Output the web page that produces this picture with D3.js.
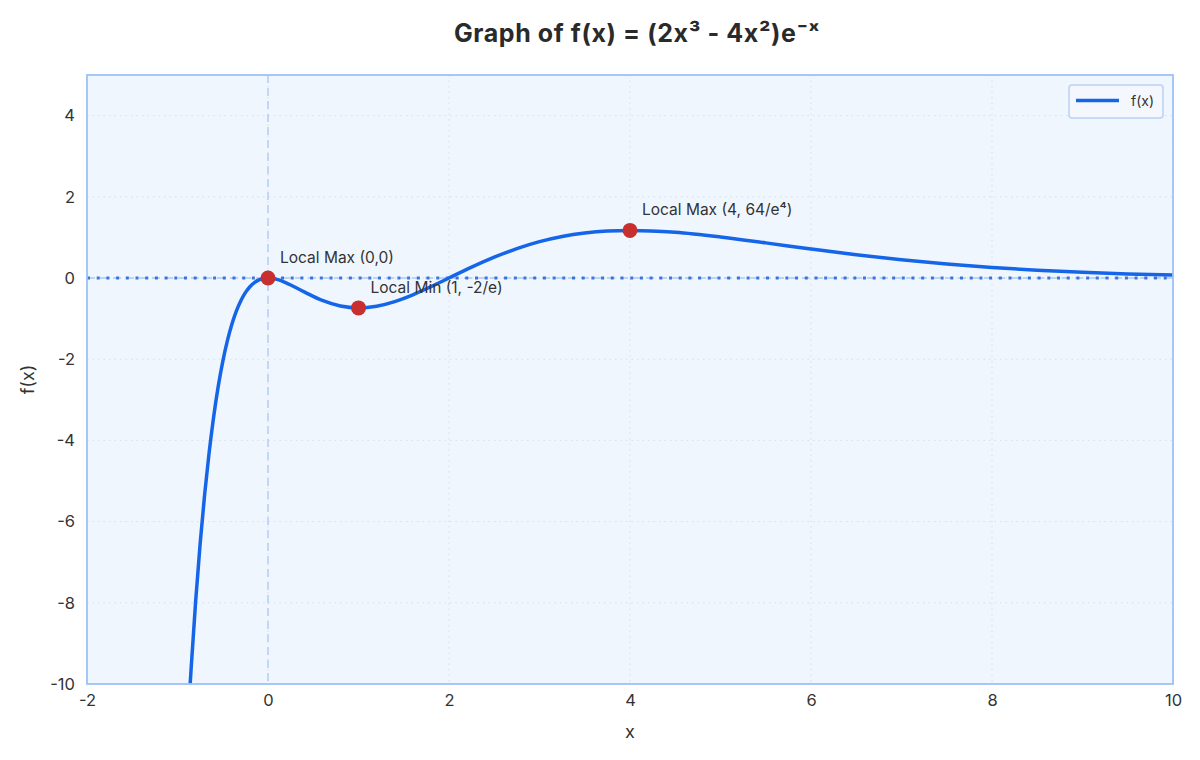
<html>
<head>
  <meta charset="utf-8">
  <title>Graph of f(x)</title>
  <script src="https://d3js.org/d3.v7.min.js"></script>
  <style>
    body { margin: 0; background: #fff; font-family: Inter, "Noto Sans", sans-serif; }
  </style>
</head>
<body>
  <div id="chart"></div>
  <script>
  // curve samples
  var xs = [-0.86, -0.85, -0.8, -0.75, -0.7, -0.65, -0.6, -0.55, -0.5, -0.45, -0.4, -0.35, -0.3, -0.25,
            -0.2, -0.15, -0.1, -0.05, 0, 0.1,
            0.2, 0.4, 0.6, 0.8, 1, 1.2, 1.4, 1.6, 1.8, 2, 2.25, 2.5, 2.75, 3, 3.25, 3.5, 3.75, 4,
            4.5, 5, 5.5, 6, 6.5, 7, 7.5, 8, 8.5, 9, 9.5, 10];
  var ys = [-10.0, -9.64, -7.98, -6.55, -5.33, -4.29, -3.41, -2.67, -2.06, -1.556, -1.146, -0.817, -0.559, -0.361,
            -0.215, -0.112, -0.046, -0.011, 0, -0.034,
            -0.118, -0.343, -0.553, -0.690, -0.736, -0.694, -0.580, -0.413, -0.214, 0, 0.267, 0.513, 0.725, 0.896, 1.024, 1.110, 1.158, 1.172,
            1.125, 1.011, 0.865, 0.714, 0.572, 0.447, 0.342, 0.258, 0.191, 0.140, 0.101, 0.073];

  var pointX = [0, 1, 4];
  var pointY = [0, -0.736, 1.172];
  var pointLabels = ["Local Max (0,0)", "Local Min (1, -2/e)", "Local Max (4, 64/e\u2074)"];

  var xTicks = [-2, 0, 2, 4, 6, 8, 10];
  var yTicks = [-10, -8, -6, -4, -2, 0, 2, 4];

  var W = 1200, H = 760;
  var margin = {top: 75, right: 27, bottom: 76, left: 87},
      width = W - margin.left - margin.right,
      height = H - margin.top - margin.bottom;

  var svg = d3.select("#chart").append("svg")
      .attr("width", W).attr("height", H);

  var g = svg.append("g")
      .attr("transform", "translate(" + margin.left + "," + margin.top + ")");

  var x = d3.scaleLinear().domain([-2, 10]).range([0, width]);
  var y = d3.scaleLinear().domain([-10, 5]).range([height, 0]);

  // plot background
  g.append("rect")
    .attr("width", width).attr("height", height)
    .attr("fill", "#f0f6fe");

  // grid
  g.append("g").selectAll("line").data(yTicks).enter().append("line")
    .attr("x1", 0).attr("x2", width)
    .attr("y1", function(d) { return y(d); }).attr("y2", function(d) { return y(d); })
    .attr("stroke", "#d5deea").attr("stroke-width", 1).attr("stroke-dasharray", "1.5,4");
  g.append("g").selectAll("line").data(xTicks).enter().append("line")
    .attr("y1", 0).attr("y2", height)
    .attr("x1", function(d) { return x(d); }).attr("x2", function(d) { return x(d); })
    .attr("stroke", "#d5deea").attr("stroke-width", 1).attr("stroke-dasharray", "1.5,4");

  // axis lines at zero
  g.append("line")
    .attr("x1", x(0)).attr("x2", x(0)).attr("y1", 0).attr("y2", height)
    .attr("stroke", "#bcd4f7").attr("stroke-width", 1.8).attr("stroke-dasharray", "8,5");
  g.append("line")
    .attr("x1", 0).attr("x2", width).attr("y1", y(0)).attr("y2", y(0))
    .attr("stroke", "#bcd4f7").attr("stroke-width", 2).attr("stroke-dasharray", "8,5");
  g.append("line")
    .attr("x1", 0).attr("x2", width).attr("y1", y(0)).attr("y2", y(0))
    .attr("stroke", "#1f63d6").attr("stroke-width", 2.8).attr("stroke-dasharray", "3,6.7")
    .attr("opacity", 0.85);

  // curve
  var data = xs.map(function(d, i) { return [d, ys[i]]; });
  g.append("path")
    .datum(data)
    .attr("fill", "none")
    .attr("stroke", "#1565e8")
    .attr("stroke-width", 3.5)
    .attr("stroke-linejoin", "round")
    .attr("d", d3.line()
      .x(function(d) { return x(d[0]); })
      .y(function(d) { return y(d[1]); })
      .curve(d3.curveMonotoneX));

  // critical points
  g.append("g").selectAll("circle").data(pointX).enter().append("circle")
    .attr("cx", function(d) { return x(d); })
    .attr("cy", function(d, i) { return y(pointY[i]); })
    .attr("r", 7.5)
    .attr("fill", "#c8302f");
  g.append("g").selectAll("text").data(pointX).enter().append("text")
    .attr("x", function(d) { return x(d) + 12; })
    .attr("y", function(d, i) { return y(pointY[i]) - 15; })
    .attr("font-size", 15.5).attr("fill", "#333")
    .text(function(d, i) { return pointLabels[i]; });

  // plot frame
  g.append("rect")
    .attr("width", width).attr("height", height)
    .attr("fill", "none").attr("stroke", "#9ec2f5").attr("stroke-width", 1.8);

  // axes
  var fmt = function(d) { return String(d); };
  var xAxis = g.append("g")
    .attr("transform", "translate(0," + height + ")")
    .call(d3.axisBottom(x).tickValues(xTicks).tickFormat(fmt).tickSize(0).tickPadding(10));
  var yAxis = g.append("g")
    .call(d3.axisLeft(y).tickValues(yTicks).tickFormat(fmt).tickSize(0).tickPadding(12));
  [xAxis, yAxis].forEach(function(a) {
    a.select(".domain").remove();
    a.selectAll("text").attr("font-size", 16.5).attr("fill", "#333")
      .attr("font-family", "Inter, 'Noto Sans', sans-serif");
  });

  // axis titles
  svg.append("text")
    .attr("text-anchor", "middle")
    .attr("x", margin.left + width / 2).attr("y", 738)
    .attr("font-size", 18).attr("fill", "#333")
    .text("x");
  svg.append("text")
    .attr("text-anchor", "middle")
    .attr("transform", "translate(34," + (margin.top + height / 2) + ") rotate(-90)")
    .attr("font-size", 18).attr("fill", "#333")
    .text("f(x)");

  // title
  svg.append("text")
    .attr("text-anchor", "middle")
    .attr("x", 637).attr("y", 42)
    .attr("font-size", 25).attr("font-weight", "bold").attr("fill", "#2a2a2a")
    .attr("letter-spacing", 0.6)
    .text("Graph of f(x) = (2x\u00b3 - 4x\u00b2)e\u207b\u02e3");

  // legend
  var lg = svg.append("g").attr("transform", "translate(1069,85)");
  lg.append("rect")
    .attr("width", 94).attr("height", 33).attr("rx", 3)
    .attr("fill", "#f4f8fe").attr("stroke", "#b8d2f6").attr("stroke-width", 1.5);
  lg.append("line")
    .attr("x1", 7).attr("x2", 50).attr("y1", 15.5).attr("y2", 15.5)
    .attr("stroke", "#1565e8").attr("stroke-width", 3.5);
  lg.append("text")
    .attr("x", 62).attr("y", 21)
    .attr("font-size", 14).attr("fill", "#333")
    .text("f(x)");
  </script>
</body>
</html>
